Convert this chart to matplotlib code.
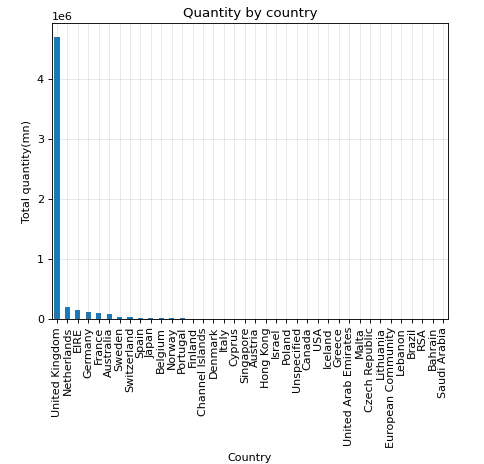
import matplotlib
matplotlib.use("Agg")
import matplotlib.pyplot as plt

countries = ["United Kingdom", "Netherlands", "EIRE", "Germany", "France", "Australia",
             "Sweden", "Switzerland", "Spain", "Japan", "Belgium", "Norway", "Portugal",
             "Finland", "Channel Islands", "Denmark", "Italy", "Cyprus", "Singapore",
             "Austria", "Hong Kong", "Israel", "Poland", "Unspecified", "Canada", "USA",
             "Iceland", "Greece", "United Arab Emirates", "Malta", "Czech Republic",
             "Lithuania", "European Community", "Lebanon", "Brazil", "RSA", "Bahrain",
             "Saudi Arabia"]
quantity = [4700000, 200900, 147400, 119300, 112100, 84200, 36100, 30600, 27900, 26000,
            23200, 19300, 16300, 10700, 9500, 8200, 8100, 6400, 5200, 4900, 4800, 4400,
            3700, 3300, 2800, 2600, 2500, 1600, 980, 970, 670, 650, 500, 390, 360, 350,
            260, 80]

fig = plt.figure(figsize=(6.05, 5.8), dpi=80)
ax = fig.add_axes([0.107, 0.312, 0.819, 0.638])
x = list(range(len(countries)))
ax.bar(x, quantity, width=0.5, color="#1f77b4", zorder=2)
ax.set_xlim(-0.5, len(countries) - 0.5)
ax.set_xticks(x)
ax.set_xticklabels(countries, rotation=90)
ax.grid(True, color="#b0b0b0", alpha=0.3, linewidth=0.8, zorder=0)
ax.set_title("Quantity by country")
ax.set_xlabel("Country")
ax.set_ylabel("Total quantity(mn)")
fig.savefig("out.png", dpi=80)
